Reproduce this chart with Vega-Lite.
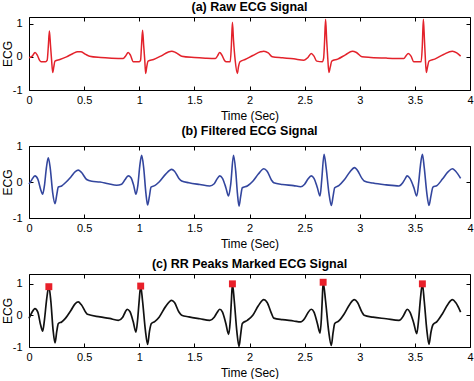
{
  "$schema": "https://vega.github.io/schema/vega-lite/v6.json",
  "padding": {"left": 0, "top": 0, "right": 0, "bottom": 0},
  "bounds": "flush",
  "spacing": 56,
  "config": {
    "font": "Liberation Sans",
    "view": {"stroke": "#000", "strokeWidth": 1},
    "axis": {"domain": false, "grid": false, "ticks": true, "tickSize": -4, "tickColor": "#000", "tickWidth": 1, "labelColor": "#000", "labelFont": "Liberation Sans", "labelFontSize": 11, "labelPadding": 11, "labelFlush": false, "labelBound": false, "titleColor": "#000", "titleFont": "Liberation Sans", "titleFontSize": 12, "titleFontWeight": "normal", "titlePadding": 3},
    "axisLeft": {"titlePadding": -2},
    "axisBottom": {"labelPadding": 8, "titlePadding": 5},
    "title": {"font": "Liberation Sans", "fontSize": 12.5, "fontWeight": "bold", "color": "#000", "anchor": "middle", "baseline": "alphabetic", "offset": 3, "frame": "group"}
  },
  "datasets": {
    "a": [
      {"t":0,"v":-0.03},{"t":0.03,"v":0.02},{"t":0.055,"v":0.13},{"t":0.075,"v":0.05},{"t":0.095,"v":-0.1},{"t":0.11,"v":-0.15},{"t":0.15,"v":-0.15},{"t":0.165,"v":-0.1},{"t":0.175,"v":0.3},{"t":0.185,"v":0.78},{"t":0.195,"v":0.35},{"t":0.205,"v":-0.1},{"t":0.215,"v":-0.47},{"t":0.225,"v":-0.3},{"t":0.235,"v":-0.13},{"t":0.28,"v":-0.08},{"t":0.34,"v":0.0},{"t":0.4,"v":0.1},{"t":0.44,"v":0.15},{"t":0.47,"v":0.15},{"t":0.51,"v":0.08},{"t":0.55,"v":0.02},{"t":0.65,"v":-0.02},{"t":0.75,"v":-0.04},{"t":0.855,"v":-0.05},{"t":0.875,"v":0.02},{"t":0.9,"v":0.13},{"t":0.92,"v":0.05},{"t":0.946,"v":-0.15},{"t":1.0,"v":-0.15},{"t":1.012,"v":-0.1},{"t":1.02,"v":0.3},{"t":1.03,"v":0.8},{"t":1.04,"v":0.35},{"t":1.05,"v":-0.1},{"t":1.058,"v":-0.5},{"t":1.068,"v":-0.3},{"t":1.08,"v":-0.13},{"t":1.13,"v":-0.08},{"t":1.2,"v":0.03},{"t":1.26,"v":0.14},{"t":1.295,"v":0.17},{"t":1.33,"v":0.13},{"t":1.385,"v":0.02},{"t":1.5,"v":-0.02},{"t":1.6,"v":-0.04},{"t":1.69,"v":-0.05},{"t":1.71,"v":0.03},{"t":1.73,"v":0.13},{"t":1.75,"v":0.05},{"t":1.775,"v":-0.12},{"t":1.79,"v":-0.15},{"t":1.825,"v":-0.15},{"t":1.835,"v":0.3},{"t":1.845,"v":1.04},{"t":1.855,"v":0.5},{"t":1.87,"v":-0.1},{"t":1.89,"v":-0.5},{"t":1.9,"v":-0.3},{"t":1.914,"v":-0.15},{"t":1.96,"v":-0.08},{"t":2.03,"v":0.04},{"t":2.1,"v":0.15},{"t":2.13,"v":0.17},{"t":2.17,"v":0.12},{"t":2.207,"v":0.0},{"t":2.3,"v":-0.03},{"t":2.4,"v":-0.06},{"t":2.494,"v":-0.1},{"t":2.53,"v":-0.02},{"t":2.56,"v":0.1},{"t":2.585,"v":0.02},{"t":2.61,"v":-0.13},{"t":2.66,"v":-0.15},{"t":2.672,"v":-0.05},{"t":2.68,"v":0.4},{"t":2.69,"v":1.13},{"t":2.7,"v":0.5},{"t":2.71,"v":-0.05},{"t":2.72,"v":-0.47},{"t":2.733,"v":-0.3},{"t":2.746,"v":-0.13},{"t":2.8,"v":-0.07},{"t":2.87,"v":0.06},{"t":2.933,"v":0.17},{"t":2.97,"v":0.13},{"t":3.02,"v":0.0},{"t":3.1,"v":-0.02},{"t":3.25,"v":-0.04},{"t":3.4,"v":-0.05},{"t":3.42,"v":0.03},{"t":3.44,"v":0.1},{"t":3.465,"v":0.02},{"t":3.49,"v":-0.15},{"t":3.557,"v":-0.15},{"t":3.567,"v":0.3},{"t":3.577,"v":1.13},{"t":3.587,"v":0.5},{"t":3.595,"v":-0.05},{"t":3.604,"v":-0.47},{"t":3.615,"v":-0.3},{"t":3.628,"v":-0.13},{"t":3.68,"v":-0.07},{"t":3.76,"v":0.07},{"t":3.84,"v":0.17},{"t":3.88,"v":0.12},{"t":3.915,"v":0.02}
    ],
    "b": [
      {"t":0,"v":-0.06},{"t":0.025,"v":0.06},{"t":0.054,"v":0.17},{"t":0.08,"v":0.08},{"t":0.105,"v":-0.2},{"t":0.124,"v":-0.34},{"t":0.14,"v":-0.1},{"t":0.158,"v":0.4},{"t":0.175,"v":0.675},{"t":0.192,"v":0.4},{"t":0.215,"v":-0.3},{"t":0.236,"v":-0.6},{"t":0.252,"v":-0.35},{"t":0.266,"v":-0.14},{"t":0.296,"v":-0.11},{"t":0.33,"v":-0.02},{"t":0.38,"v":0.14},{"t":0.42,"v":0.29},{"t":0.447,"v":0.33},{"t":0.475,"v":0.27},{"t":0.523,"v":0.07},{"t":0.57,"v":0.02},{"t":0.644,"v":0.0},{"t":0.72,"v":-0.05},{"t":0.795,"v":-0.09},{"t":0.84,"v":-0.06},{"t":0.87,"v":0.06},{"t":0.9,"v":0.17},{"t":0.925,"v":0.12},{"t":0.95,"v":-0.1},{"t":0.97,"v":-0.34},{"t":0.987,"v":-0.1},{"t":1.005,"v":0.45},{"t":1.022,"v":0.74},{"t":1.04,"v":0.4},{"t":1.06,"v":-0.3},{"t":1.076,"v":-0.64},{"t":1.092,"v":-0.4},{"t":1.107,"v":-0.14},{"t":1.14,"v":-0.1},{"t":1.18,"v":0.0},{"t":1.24,"v":0.22},{"t":1.294,"v":0.35},{"t":1.32,"v":0.3},{"t":1.36,"v":0.1},{"t":1.385,"v":0.03},{"t":1.45,"v":-0.02},{"t":1.55,"v":-0.07},{"t":1.64,"v":-0.11},{"t":1.68,"v":-0.05},{"t":1.705,"v":0.08},{"t":1.73,"v":0.17},{"t":1.755,"v":0.1},{"t":1.785,"v":-0.15},{"t":1.81,"v":-0.39},{"t":1.83,"v":-0.05},{"t":1.855,"v":0.74},{"t":1.875,"v":0.3},{"t":1.89,"v":-0.3},{"t":1.905,"v":-0.67},{"t":1.92,"v":-0.4},{"t":1.935,"v":-0.16},{"t":1.98,"v":-0.11},{"t":2.03,"v":0.02},{"t":2.08,"v":0.22},{"t":2.13,"v":0.37},{"t":2.16,"v":0.3},{"t":2.2,"v":0.05},{"t":2.22,"v":-0.02},{"t":2.3,"v":-0.07},{"t":2.4,"v":-0.1},{"t":2.464,"v":-0.13},{"t":2.5,"v":-0.06},{"t":2.53,"v":0.08},{"t":2.56,"v":0.17},{"t":2.585,"v":0.1},{"t":2.615,"v":-0.15},{"t":2.64,"v":-0.39},{"t":2.655,"v":0.05},{"t":2.676,"v":0.77},{"t":2.695,"v":0.4},{"t":2.72,"v":-0.3},{"t":2.742,"v":-0.65},{"t":2.758,"v":-0.4},{"t":2.773,"v":-0.16},{"t":2.81,"v":-0.1},{"t":2.86,"v":0.06},{"t":2.91,"v":0.28},{"t":2.954,"v":0.4},{"t":2.98,"v":0.32},{"t":3.02,"v":0.1},{"t":3.04,"v":0.03},{"t":3.12,"v":-0.03},{"t":3.24,"v":-0.08},{"t":3.356,"v":-0.11},{"t":3.39,"v":-0.02},{"t":3.41,"v":0.08},{"t":3.43,"v":0.17},{"t":3.455,"v":0.1},{"t":3.49,"v":-0.15},{"t":3.517,"v":-0.39},{"t":3.535,"v":0.0},{"t":3.55,"v":0.45},{"t":3.568,"v":0.77},{"t":3.585,"v":0.4},{"t":3.608,"v":-0.3},{"t":3.628,"v":-0.65},{"t":3.645,"v":-0.4},{"t":3.664,"v":-0.14},{"t":3.7,"v":-0.1},{"t":3.75,"v":0.08},{"t":3.8,"v":0.28},{"t":3.84,"v":0.37},{"t":3.87,"v":0.3},{"t":3.915,"v":0.1}
    ],
    "c": [
      {"t":0,"v":-0.1},{"t":0.025,"v":0.08},{"t":0.054,"v":0.21},{"t":0.08,"v":0.1},{"t":0.105,"v":-0.3},{"t":0.124,"v":-0.5},{"t":0.14,"v":-0.15},{"t":0.16,"v":0.5},{"t":0.18,"v":0.9},{"t":0.198,"v":0.45},{"t":0.218,"v":-0.45},{"t":0.236,"v":-0.87},{"t":0.252,"v":-0.5},{"t":0.266,"v":-0.26},{"t":0.296,"v":-0.21},{"t":0.33,"v":-0.1},{"t":0.38,"v":0.15},{"t":0.42,"v":0.37},{"t":0.447,"v":0.42},{"t":0.475,"v":0.33},{"t":0.53,"v":0.03},{"t":0.644,"v":-0.05},{"t":0.73,"v":-0.1},{"t":0.81,"v":-0.16},{"t":0.85,"v":-0.06},{"t":0.87,"v":0.08},{"t":0.89,"v":0.19},{"t":0.915,"v":0.12},{"t":0.945,"v":-0.2},{"t":0.97,"v":-0.53},{"t":0.985,"v":-0.15},{"t":0.998,"v":0.4},{"t":1.013,"v":0.92},{"t":1.03,"v":0.45},{"t":1.055,"v":-0.45},{"t":1.076,"v":-0.92},{"t":1.093,"v":-0.5},{"t":1.11,"v":-0.26},{"t":1.14,"v":-0.2},{"t":1.18,"v":-0.06},{"t":1.24,"v":0.28},{"t":1.294,"v":0.47},{"t":1.32,"v":0.4},{"t":1.36,"v":0.1},{"t":1.385,"v":0.0},{"t":1.45,"v":-0.05},{"t":1.55,"v":-0.11},{"t":1.64,"v":-0.16},{"t":1.68,"v":-0.06},{"t":1.705,"v":0.08},{"t":1.73,"v":0.19},{"t":1.755,"v":0.1},{"t":1.785,"v":-0.25},{"t":1.81,"v":-0.6},{"t":1.825,"v":-0.2},{"t":1.835,"v":0.4},{"t":1.845,"v":0.99},{"t":1.862,"v":0.45},{"t":1.885,"v":-0.5},{"t":1.905,"v":-0.98},{"t":1.92,"v":-0.6},{"t":1.935,"v":-0.26},{"t":1.98,"v":-0.16},{"t":2.03,"v":0.0},{"t":2.08,"v":0.3},{"t":2.13,"v":0.49},{"t":2.16,"v":0.4},{"t":2.2,"v":0.05},{"t":2.22,"v":-0.09},{"t":2.3,"v":-0.14},{"t":2.4,"v":-0.18},{"t":2.464,"v":-0.21},{"t":2.5,"v":-0.1},{"t":2.53,"v":0.08},{"t":2.56,"v":0.19},{"t":2.585,"v":0.1},{"t":2.615,"v":-0.25},{"t":2.64,"v":-0.56},{"t":2.652,"v":-0.1},{"t":2.66,"v":0.5},{"t":2.668,"v":1.04},{"t":2.69,"v":0.45},{"t":2.718,"v":-0.5},{"t":2.742,"v":-0.95},{"t":2.758,"v":-0.55},{"t":2.773,"v":-0.26},{"t":2.81,"v":-0.18},{"t":2.86,"v":0.05},{"t":2.91,"v":0.35},{"t":2.95,"v":0.49},{"t":2.98,"v":0.4},{"t":3.02,"v":0.1},{"t":3.04,"v":0.0},{"t":3.12,"v":-0.06},{"t":3.24,"v":-0.11},{"t":3.356,"v":-0.16},{"t":3.39,"v":-0.05},{"t":3.41,"v":0.08},{"t":3.43,"v":0.19},{"t":3.455,"v":0.1},{"t":3.49,"v":-0.25},{"t":3.517,"v":-0.58},{"t":3.535,"v":-0.1},{"t":3.55,"v":0.5},{"t":3.568,"v":0.99},{"t":3.585,"v":0.45},{"t":3.608,"v":-0.45},{"t":3.628,"v":-0.92},{"t":3.645,"v":-0.55},{"t":3.664,"v":-0.3},{"t":3.7,"v":-0.2},{"t":3.75,"v":0.05},{"t":3.8,"v":0.35},{"t":3.84,"v":0.49},{"t":3.87,"v":0.4},{"t":3.915,"v":0.1}
    ],
    "pk": [
      {"t":0.18,"v":0.9},{"t":1.013,"v":0.92},{"t":1.845,"v":0.99},{"t":2.668,"v":1.04},{"t":3.568,"v":0.99}
    ]
  },
  "vconcat": [
    {
      "width": 441, "height": 73,
      "title": "(a) Raw ECG Signal",
      "resolve": {"axis": {"x": "independent", "y": "independent"}},
      "layer": [
        {"data": {"name": "a"}, "mark": {"type": "line", "color": "#e3222b", "strokeWidth": 1.5, "interpolate": "monotone"},
         "encoding": {
           "x": {"field": "t", "type": "quantitative", "scale": {"domain": [0, 4], "nice": false, "zero": false}, "axis": {"orient": "bottom", "values": [0, 0.5, 1, 1.5, 2, 2.5, 3, 3.5, 4], "format": "~g", "labelFlush": false, "title": "Time (Sec)"}},
           "y": {"field": "v", "type": "quantitative", "scale": {"domain": [-1, 1.2], "nice": false, "zero": false}, "axis": {"orient": "left", "values": [-1, 0, 1], "labelExpr": "'' + datum.value", "title": "ECG"}}
         }},
        {"data": {"name": "a"}, "mark": {"type": "line", "opacity": 0},
         "encoding": {
           "x": {"field": "t", "type": "quantitative", "axis": {"orient": "top", "values": [0, 0.5, 1, 1.5, 2, 2.5, 3, 3.5, 4], "labels": false, "title": null}},
           "y": {"field": "v", "type": "quantitative", "axis": {"orient": "right", "values": [-1, 0, 1], "labels": false, "title": null}}
         }}
      ]
    },
    {
      "width": 441, "height": 72,
      "title": "(b) Filtered ECG Signal",
      "resolve": {"axis": {"x": "independent", "y": "independent"}},
      "layer": [
        {"data": {"name": "b"}, "mark": {"type": "line", "color": "#33469e", "strokeWidth": 1.6, "interpolate": "monotone"},
         "encoding": {
           "x": {"field": "t", "type": "quantitative", "scale": {"domain": [0, 4], "nice": false, "zero": false}, "axis": {"orient": "bottom", "values": [0, 0.5, 1, 1.5, 2, 2.5, 3, 3.5, 4], "format": "~g", "labelFlush": false, "title": "Time (Sec)"}},
           "y": {"field": "v", "type": "quantitative", "scale": {"domain": [-1, 1], "nice": false, "zero": false}, "axis": {"orient": "left", "values": [-1, 0, 1], "labelExpr": "'' + datum.value", "title": "ECG"}}
         }},
        {"data": {"name": "b"}, "mark": {"type": "line", "opacity": 0},
         "encoding": {
           "x": {"field": "t", "type": "quantitative", "axis": {"orient": "top", "values": [0, 0.5, 1, 1.5, 2, 2.5, 3, 3.5, 4], "labels": false, "title": null}},
           "y": {"field": "v", "type": "quantitative", "axis": {"orient": "right", "values": [-1, 0, 1], "labels": false, "title": null}}
         }}
      ]
    },
    {
      "width": 441, "height": 73,
      "title": "(c) RR Peaks Marked ECG Signal",
      "resolve": {"axis": {"x": "independent", "y": "independent"}},
      "layer": [
        {"data": {"name": "c"}, "mark": {"type": "line", "color": "#111111", "strokeWidth": 1.7, "interpolate": "monotone"},
         "encoding": {
           "x": {"field": "t", "type": "quantitative", "scale": {"domain": [0, 4], "nice": false, "zero": false}, "axis": {"orient": "bottom", "values": [0, 0.5, 1, 1.5, 2, 2.5, 3, 3.5, 4], "format": "~g", "labelFlush": false, "title": "Time (Sec)"}},
           "y": {"field": "v", "type": "quantitative", "scale": {"domain": [-1, 1.3], "nice": false, "zero": false}, "axis": {"orient": "left", "values": [-1, 0, 1], "labelExpr": "'' + datum.value", "title": "ECG"}}
         }},
        {"data": {"name": "c"}, "mark": {"type": "line", "opacity": 0},
         "encoding": {
           "x": {"field": "t", "type": "quantitative", "axis": {"orient": "top", "values": [0, 0.5, 1, 1.5, 2, 2.5, 3, 3.5, 4], "labels": false, "title": null}},
           "y": {"field": "v", "type": "quantitative", "axis": {"orient": "right", "values": [-1, 0, 1], "labels": false, "title": null}}
         }},
        {"data": {"name": "pk"}, "mark": {"type": "point", "shape": "square", "filled": true, "color": "#e8202a", "size": 48, "opacity": 1},
         "encoding": {
           "x": {"field": "t", "type": "quantitative", "axis": null},
           "y": {"field": "v", "type": "quantitative", "axis": null}
         }}
      ]
    }
  ]
}
